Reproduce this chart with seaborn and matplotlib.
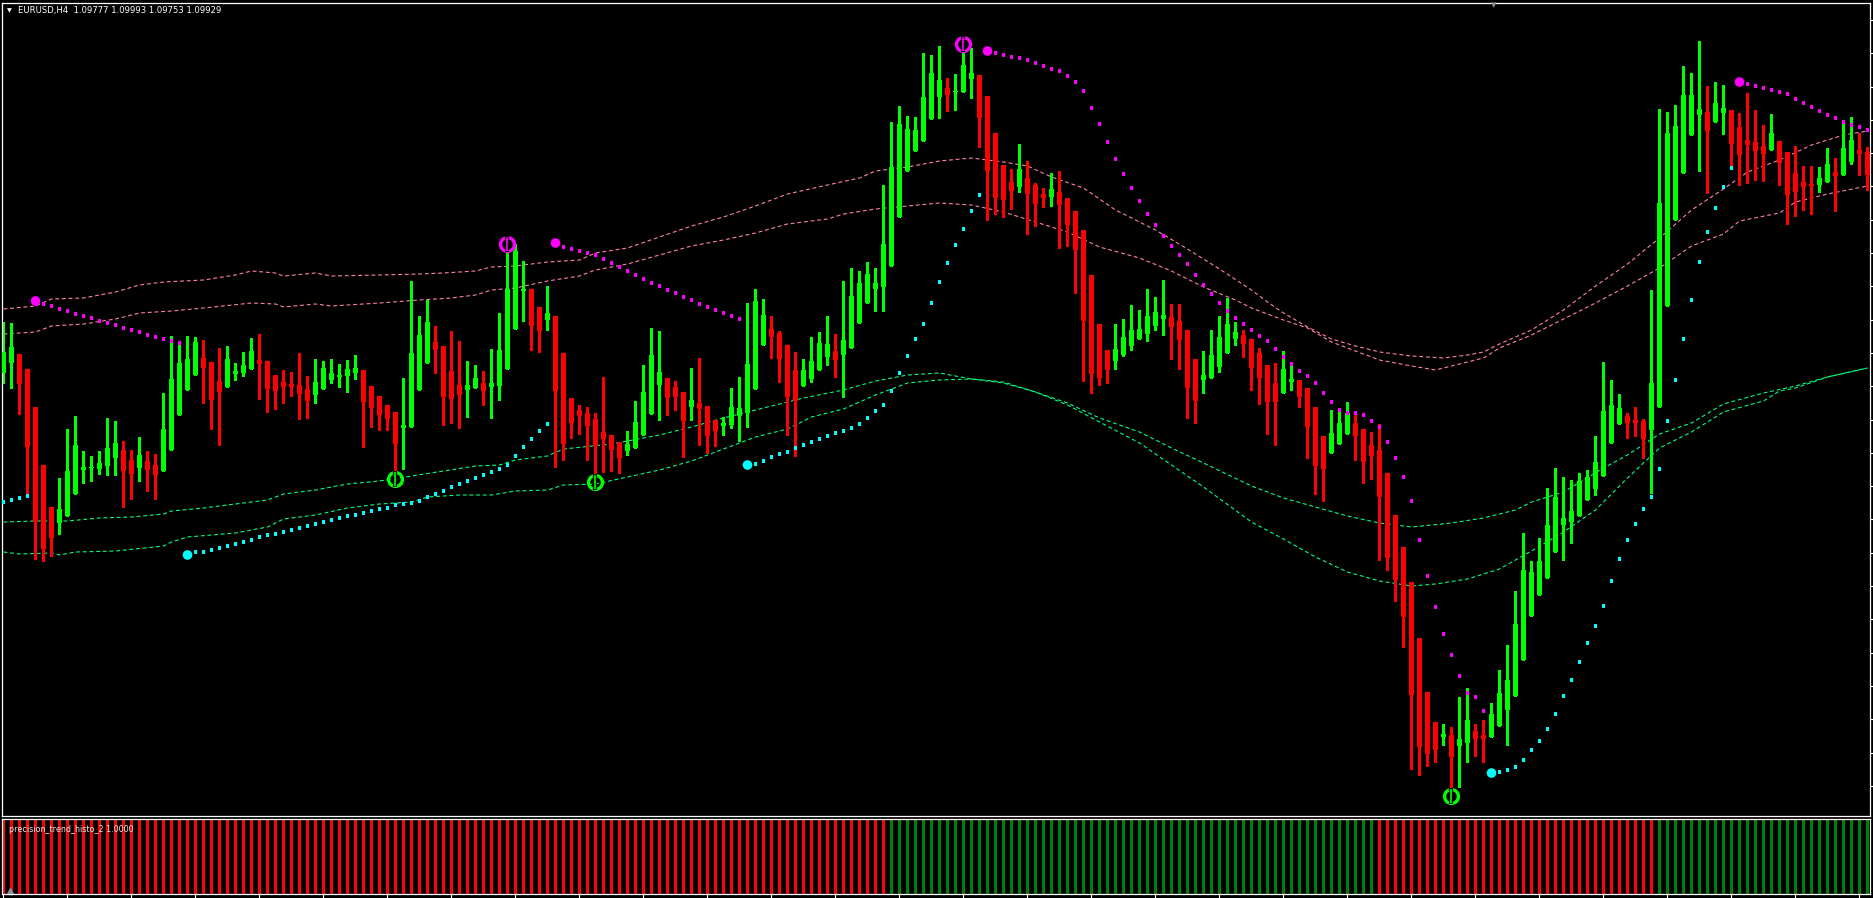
import numpy as np
import pandas as pd
import matplotlib
matplotlib.use("Agg")
import matplotlib.pyplot as plt
import seaborn as sns

# chart read-outs in points below 1.10350 (1 pt = 0.00003), one value per H4 bar
open_pts = [373, 363, 354, 369, 407, 465, 507, 523, 516, 494, 470, 468, 469, 466, 458, 450, 460, 468, 461, 465,
            471, 450, 415, 390, 375, 358, 362, 381, 387, 374, 373, 369, 360, 361, 375, 382, 384, 385, 389,
            395, 389, 380, 377, 376, 373, 370, 386, 396, 405, 412, 428, 427, 390, 363, 342, 346, 371, 385, 390,
            388, 383, 387, 386, 369, 329, 291, 289, 307, 320, 316, 353, 398, 410, 413, 419, 432, 435, 442,
            451, 448, 435, 414, 385, 378, 387, 392, 407, 403, 406, 420, 426, 425, 416, 413, 389, 345, 329, 333,
            345, 370, 386, 379, 370, 357, 351, 355, 348, 323, 303, 289, 287, 266, 217, 171, 151, 141, 119,
            97, 88, 92, 92, 79, 75, 96, 133, 165, 182, 187, 178, 185, 194, 197, 192, 198, 211, 230, 275,
            324, 350, 361, 355, 346, 339, 334, 326, 319, 317, 321, 330, 359, 380, 378, 367, 353, 339, 335,
            339, 353, 365, 383, 393, 382, 380, 388, 407, 436, 453, 444, 434, 423, 429, 445, 450, 473, 515, 547,
            582, 638, 692, 722, 737, 735, 746, 743, 731, 735, 737, 726, 710, 696, 660, 616, 595, 578, 552,
            525, 522, 516, 500, 489, 476, 443, 424, 416, 420, 421, 430, 407, 306, 220, 173, 135, 115, 112, 122,
            113, 110, 127, 140, 142, 146, 150, 141, 152, 173, 182, 184, 185, 182, 172, 175, 162, 150, 152]
high_pts = [322, 323, 354, 369, 407, 465, 507, 478, 429, 416, 451, 456, 451, 418, 421, 441, 450, 437, 451, 454,
            393, 336, 343, 336, 337, 340, 362, 348, 346, 363, 352, 338, 334, 361, 375, 370, 372, 353, 376,
            359, 361, 359, 364, 360, 355, 370, 386, 396, 405, 412, 378, 281, 316, 300, 326, 346, 331, 341, 361,
            365, 371, 349, 313, 244, 244, 261, 289, 307, 286, 316, 353, 398, 405, 407, 413, 377, 435, 442,
            431, 401, 365, 328, 331, 378, 381, 392, 368, 358, 406, 420, 417, 388, 377, 303, 289, 299, 316, 331,
            345, 352, 359, 337, 332, 316, 334, 281, 268, 271, 262, 268, 185, 122, 106, 116, 117, 53, 55,
            46, 78, 74, 44, 48, 75, 96, 133, 165, 169, 144, 161, 183, 188, 173, 171, 198, 211, 230, 275,
            324, 350, 324, 319, 305, 310, 289, 297, 280, 304, 304, 330, 359, 351, 330, 316, 298, 322, 330,
            339, 348, 365, 363, 351, 363, 380, 388, 407, 436, 410, 412, 402, 412, 429, 432, 424, 473, 515, 547,
            582, 638, 692, 722, 724, 727, 697, 688, 724, 720, 703, 670, 645, 591, 533, 561, 538, 488, 468,
            477, 480, 473, 470, 436, 362, 380, 394, 413, 407, 419, 290, 109, 112, 105, 66, 73, 41, 86, 82,
            85, 110, 113, 93, 110, 125, 114, 141, 152, 146, 166, 166, 167, 148, 158, 122, 117, 133, 147]
low_pts = [383, 388, 414, 493, 559, 561, 556, 534, 516, 494, 483, 481, 474, 475, 475, 507, 499, 481, 491, 499,
           471, 450, 415, 390, 375, 403, 429, 445, 387, 380, 376, 369, 399, 412, 409, 403, 396, 419, 418,
           403, 389, 383, 387, 392, 379, 447, 427, 430, 430, 477, 469, 427, 390, 363, 373, 425, 423, 428, 417,
           388, 405, 418, 400, 369, 329, 321, 350, 352, 330, 467, 460, 438, 434, 460, 482, 472, 471, 473,
           455, 448, 435, 414, 420, 415, 410, 457, 420, 445, 453, 446, 435, 428, 441, 427, 389, 345, 358, 382,
           435, 456, 386, 382, 370, 365, 377, 397, 348, 323, 303, 311, 311, 266, 217, 171, 151, 141, 119,
           118, 111, 110, 92, 98, 147, 220, 214, 217, 209, 192, 234, 226, 207, 206, 248, 246, 293, 381, 393,
           385, 383, 369, 356, 350, 339, 341, 330, 335, 359, 369, 418, 423, 393, 378, 372, 353, 345, 357,
           390, 404, 434, 445, 393, 390, 407, 458, 494, 501, 453, 444, 434, 460, 483, 479, 560, 570, 601, 647,
           769, 775, 766, 762, 745, 797, 787, 762, 756, 762, 737, 726, 745, 696, 660, 616, 595, 578, 552,
           560, 543, 516, 500, 495, 476, 443, 424, 438, 436, 458, 493, 407, 306, 220, 173, 135, 171, 193, 122,
           134, 165, 185, 183, 180, 181, 150, 185, 224, 216, 210, 214, 192, 182, 211, 175, 164, 175, 190]
close_pts = [352, 347, 384, 447, 522, 549, 538, 509, 471, 445, 467, 468, 463, 448, 443, 471, 474, 455, 470, 475,
             429, 379, 363, 359, 342, 368, 400, 392, 359, 371, 365, 351, 364, 389, 391, 387, 387, 394, 401,
             382, 368, 373, 375, 369, 368, 402, 408, 415, 419, 444, 425, 353, 335, 322, 350, 397, 399, 395, 385,
             378, 391, 383, 350, 289, 251, 289, 326, 331, 313, 391, 444, 423, 416, 426, 446, 439, 450, 458,
             444, 422, 392, 355, 372, 398, 397, 421, 400, 409, 436, 431, 423, 407, 408, 364, 301, 315, 337, 359,
             397, 401, 370, 361, 343, 344, 360, 340, 296, 283, 274, 283, 244, 167, 124, 129, 130, 97, 73,
             80, 95, 91, 65, 73, 118, 171, 198, 200, 191, 169, 194, 204, 198, 189, 205, 225, 250, 321, 374,
             378, 370, 349, 337, 330, 329, 316, 312, 315, 327, 340, 388, 401, 375, 355, 337, 324, 332, 344,
             368, 378, 402, 402, 369, 379, 397, 427, 466, 469, 433, 423, 413, 436, 462, 456, 497, 558, 580, 617,
             695, 747, 754, 750, 734, 757, 739, 720, 739, 739, 714, 693, 680, 624, 570, 572, 561, 525, 497,
             518, 511, 481, 477, 462, 411, 405, 408, 423, 423, 439, 383, 203, 133, 126, 95, 95, 109, 131, 103,
             108, 144, 155, 145, 151, 154, 133, 163, 195, 192, 187, 186, 178, 164, 176, 148, 140, 154, 175]

# parabolic stop-and-reverse, one dot per bar; trend flips at these bars (starts bullish)
sar_pts = [502, 500, 498, 496,
           301, 304, 306, 309, 311, 314, 316, 318, 321, 323, 325, 328, 330, 332, 335, 337, 339, 341, 343,
           555, 552, 552, 550, 548, 546, 544, 542, 540, 537, 535, 534, 532, 530, 528, 526,
           524, 522, 520, 518, 516, 515, 513, 511, 509, 508, 505, 504, 503, 501, 497, 494, 491, 487, 484, 481,
           478, 475, 472, 469, 465, 456, 447, 439, 431, 424,
           243, 247, 249, 251, 253, 255, 259, 263, 267,
           271, 275, 279, 283, 286, 290, 293, 297, 300, 304, 307, 310, 313, 316, 319,
           465, 464, 461, 457, 454, 452, 448, 445, 442, 439, 436, 433, 431, 428, 424, 418, 411, 405, 391, 373,
           356, 339, 324, 303, 282, 263, 245, 229, 211, 195,
           51, 53, 55, 57, 58, 60, 63, 66, 69, 71, 76, 82, 91, 108, 124, 142, 159, 174, 188, 201,
           214, 225, 236, 246, 255, 264, 275, 285, 294, 303, 311, 318, 324,
           330, 336, 341, 349, 357, 364, 371, 376, 383, 393, 402, 410, 413, 413, 415, 421, 427, 442, 458, 477,
           501, 540, 576, 607, 634, 655, 676, 693, 697, 711,
           773, 772, 770, 767, 760, 750, 741, 729, 714,
           696, 680, 662, 643, 626, 606, 581, 559, 540, 524, 509, 497, 469, 421, 380, 339, 300, 262, 232, 208,
           187, 168,
           82, 84, 86, 88, 90, 92, 94, 99, 103, 107, 111, 115, 118, 122, 125, 127, 130]
sar_flips = [4, 23, 69, 93, 123, 186, 217]

# envelope bands, sampled (bar, points)
pink_outer = [(0, 309), (4, 306), (6, 299), (10, 298), (14, 292), (17, 285), (20, 282), (25, 280), (29, 275),
              (31, 271), (34, 273), (35, 276), (39, 273), (41, 276), (47, 275), (52, 274), (55, 273), (59, 271),
              (61, 267), (64, 266), (68, 262), (72, 260), (74, 253), (78, 248), (82, 237), (86, 226), (90, 217),
              (94, 206), (98, 194), (103, 185), (107, 178), (109, 171), (113, 167), (117, 161), (121, 158),
              (125, 162), (128, 166), (131, 177), (135, 188), (139, 210), (144, 230), (148, 249), (152, 269),
              (156, 290), (158, 302), (160, 313), (163, 327), (166, 339), (169, 346), (172, 352), (176, 356),
              (180, 358), (183, 355), (185, 352), (187, 344), (191, 330), (195, 310), (199, 286), (203, 264),
              (207, 238), (211, 210), (215, 189), (218, 172), (222, 160), (226, 145), (230, 135), (233, 131)]
pink_inner = [(0, 334), (4, 332), (6, 326), (10, 324), (14, 319), (17, 313), (21, 311), (25, 308), (31, 303),
              (34, 304), (35, 307), (39, 304), (41, 306), (47, 303), (52, 300), (56, 298), (59, 295), (61, 290),
              (64, 288), (68, 281), (72, 276), (74, 270), (78, 264), (82, 255), (86, 246), (90, 240), (94, 233),
              (98, 224), (103, 219), (105, 214), (109, 209), (113, 206), (117, 203), (121, 205), (125, 212),
              (129, 222), (133, 232), (137, 247), (142, 258), (146, 271), (150, 287), (154, 300), (156, 308),
              (158, 314), (160, 320), (163, 328), (166, 342), (169, 351), (172, 360), (176, 366), (179, 370),
              (183, 362), (185, 358), (187, 348), (191, 335), (195, 319), (199, 303), (203, 286), (207, 268),
              (211, 246), (215, 234), (217, 221), (222, 213), (224, 202), (228, 194), (233, 186)]
green_upper = [(0, 522), (4, 521), (8, 521), (12, 518), (16, 517), (20, 514), (21, 511), (25, 508), (29, 504),
               (33, 500), (35, 494), (39, 490), (43, 484), (47, 481), (51, 476), (55, 471), (59, 466), (62, 465),
               (64, 460), (68, 456), (70, 449), (76, 444), (78, 441), (82, 435), (86, 427), (90, 418), (94, 410),
               (98, 402), (100, 398), (105, 390), (109, 381), (113, 375), (117, 373), (121, 379), (125, 382),
               (129, 392), (133, 403), (137, 418), (142, 432), (146, 448), (150, 463), (156, 486), (160, 498),
               (164, 507), (168, 516), (172, 523), (176, 527), (181, 523), (185, 518), (189, 510), (191, 502),
               (195, 492), (200, 468), (203, 455), (207, 434), (211, 423), (215, 404), (220, 393), (224, 386),
               (228, 377), (233, 368)]
green_lower = [(0, 552), (2, 554), (6, 553), (7, 555), (9, 552), (14, 551), (20, 546), (21, 542), (23, 537),
               (29, 533), (33, 527), (35, 519), (39, 515), (43, 508), (47, 504), (51, 502), (53, 497), (57, 495),
               (61, 495), (64, 491), (68, 490), (70, 485), (74, 484), (78, 477), (82, 470), (86, 461), (90, 449),
               (94, 437), (98, 429), (101, 417), (105, 409), (109, 395), (113, 383), (117, 380), (121, 379),
               (125, 383), (129, 392), (133, 405), (137, 422), (142, 443), (146, 465), (150, 487), (156, 522),
               (160, 539), (164, 557), (168, 572), (172, 581), (176, 586), (179, 584), (183, 579), (187, 569),
               (191, 551), (195, 532), (199, 510), (203, 478), (207, 448), (211, 432), (215, 412), (220, 401),
               (222, 391), (224, 388), (228, 377), (233, 368)]

# reversal arrows (bar, points)
sell_arrows = [(63, 244), (120, 44)]
buy_arrows = [(49, 479), (74, 482), (181, 796)]

# precision_trend_histo_2: bars where the trend turns bullish / bearish
histo_green_from = [111, 207]
histo_red_from = [0, 172]

title = "EURUSD,H4  1.09777 1.09993 1.09753 1.09929"
histo_label = "precision_trend_histo_2 1.0000"

BASE, PT = 1.10350, 0.00003


def to_price(v):
    return BASE - np.asarray(v, dtype=float) * PT


W, H = 1874, 898
n = len(open_pts)
bars = np.arange(n)
df = pd.DataFrame({"bar": bars, "open": to_price(open_pts), "high": to_price(high_pts),
                   "low": to_price(low_pts), "close": to_price(close_pts)})
df["bull"] = df["close"] >= df["open"]

sns.set_theme(style="dark", rc={"axes.facecolor": "black", "figure.facecolor": "black"})
plt.rcParams["font.family"] = ["DejaVu Sans"]

fig = plt.figure(figsize=(W / 100, H / 100), dpi=100)
ax = fig.add_axes([2.5 / W, (H - 815.5) / H, 1868 / W, 813 / H])
axh = fig.add_axes([2.5 / W, (H - 894) / H, 1868 / W, 75.5 / H])
xlim = (-0.125, 233.375)

BULL, BEAR = "#00ff00", "#ff0000"

# bands
for band, col in [(pink_outer, "#ff7fae"), (pink_inner, "#ff7fae"),
                  (green_upper, "#00ff80"), (green_lower, "#00ff80")]:
    b = pd.DataFrame(band, columns=["bar", "pts"])
    sns.lineplot(x=b["bar"], y=to_price(b["pts"]), ax=ax, color=col, linewidth=0.8,
                 linestyle=(0, (3.5, 2.5)), zorder=1)

# candles
colors = np.where(df["bull"], BULL, BEAR)
ax.vlines(df["bar"], df["low"], df["high"], colors=colors, linewidth=0.8, zorder=2, antialiased=False)
body = (df["close"] - df["open"]).to_numpy()
body = np.where(np.abs(body) < PT, PT, body)
ax.bar(df["bar"], body, bottom=df["open"], width=0.62, color=colors, linewidth=0,
       zorder=3, antialiased=False)

# SAR dots
trend = []
state = True
for k in range(n):
    if k in sar_flips:
        state = not state
    trend.append(state)
sar = pd.DataFrame({"bar": bars, "price": to_price(sar_pts), "bull": trend})
sar["color"] = np.where(sar["bull"], "#00ffff", "#ff00ff")
sns.scatterplot(data=sar, x="bar", y="price", hue="color", palette={"#00ffff": "#00ffff", "#ff00ff": "#ff00ff"},
                s=7, marker="s", linewidth=0, legend=False, ax=ax, zorder=5)
start = sar[sar["bar"].isin(sar_flips)]
ax.scatter(start["bar"], start["price"], s=48, c=start["color"], linewidths=0, zorder=6)

# arrows
for pts, col in [(sell_arrows, "#ff00ff"), (buy_arrows, "#00ff00")]:
    a = pd.DataFrame(pts, columns=["bar", "pts"])
    yy = to_price(a["pts"])
    ax.plot(a["bar"], yy, "o", ms=10, mfc="none", mec=col, mew=2.4, zorder=7)
    ax.plot(a["bar"], yy, "|", ms=12, mec="black", mew=3.0, zorder=8)
    ax.plot(a["bar"], yy, "|", ms=10, mec=col, mew=1.2, zorder=9)

ax.set_xlim(xlim)
ax.set_ylim(BASE - 815.5 * PT, BASE - 2.5 * PT)
ax.set_xlabel("")
ax.set_ylabel("")
ax.set_xticks([])
ax.yaxis.tick_right()
ax.set_yticks(np.arange(BASE - 20 * PT, BASE - 815 * PT, -33.3 * PT))
ax.tick_params(axis="y", direction="out", length=2.5, width=0.8, color="white",
               labelright=False, labelleft=False, right=True, left=False)

# histogram
hcol = []
for k in range(n):
    last_g = max([g for g in histo_green_from if g <= k], default=-1)
    last_r = max([r for r in histo_red_from if r <= k], default=-1)
    hcol.append("#008000" if last_g > last_r else "#ff0000")
axh.bar(bars, np.ones(n), width=0.36, color=hcol, linewidth=0, antialiased=False)
axh.set_xlim(xlim)
axh.set_ylim(0, 1.0)
axh.set_xticks(np.arange(0, n, 8))
axh.set_yticks([])
axh.tick_params(axis="x", direction="out", length=3, width=0.8, color="white",
                labelbottom=False, bottom=True)
axh.text(7 / 1868, 0.86, histo_label, transform=axh.transAxes, color="#e8e8e8",
         fontsize=5.8, va="center", ha="left")
axh.plot([0.004], [0.04], marker="^", ms=4, color="#8a8f98", transform=axh.transAxes, clip_on=False)

for a in (ax, axh):
    a.grid(False)
    for sp in a.spines.values():
        sp.set_color("white")
        sp.set_linewidth(0.9)

fig.text(18 / W, 1 - 11 / H, title, color="white", fontsize=6.1, va="center", ha="left")
fig.text(9.5 / W, 1 - 10.5 / H, "\u25bc", color="white", fontsize=4.5, va="center", ha="center")
fig.text(1494 / W, 1 - 5 / H, "\u25bc", color="#8a8f98", fontsize=5, va="center", ha="center")

fig.savefig("out.png", dpi=100, facecolor="black")
